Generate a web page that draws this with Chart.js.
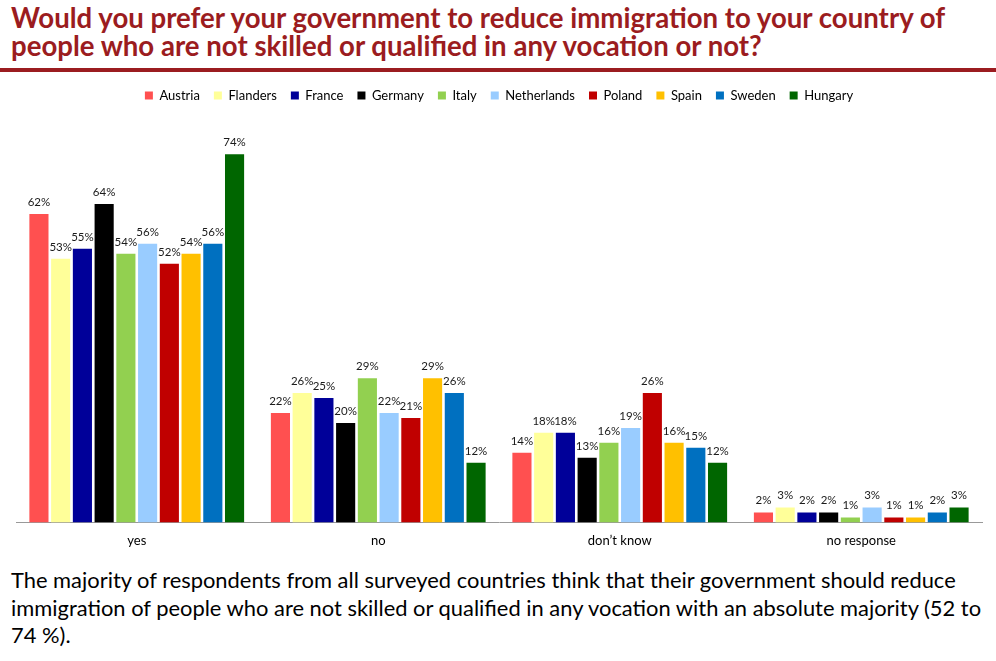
<!DOCTYPE html>
<html>
<head>
<meta charset="utf-8">
<script src="https://cdn.jsdelivr.net/npm/chart.js@4.4.0/dist/chart.umd.min.js"></script>
<style>
    html, body { margin: 0; padding: 0; background: #fff; }
    body { width: 996px; height: 661px; position: relative; overflow: hidden; font-family: Lato, 'Open Sans', sans-serif; }
    #title { position: absolute; left: 11px; top: 4px; color: #9b1c20; font-weight: bold; font-size: 27.6px; line-height: 28px; white-space: nowrap; }
    #rule { position: absolute; left: 0; top: 68px; width: 996px; height: 4px; background: #9b1c20; }
    #wrap { position: absolute; left: 0; top: 75px; width: 996px; height: 477px; }
    #note { position: absolute; left: 11px; top: 566px; font-size: 21.9px; line-height: 27.5px; color: #000; white-space: nowrap; }
</style>
</head>
<body>
<div id="title">Would you prefer your government to reduce immigration to your country of<br>people who are not skilled or qualified in any vocation or not?</div>
<div id="rule"></div>
<div id="wrap"><canvas id="chart"></canvas></div>
<div id="note">The majority of respondents from all surveyed countries think that their government should reduce<br>immigration of people who are not skilled or qualified in any vocation with an absolute majority (52 to<br>74 %).</div>
<script>
    var answers = ['yes', 'no', 'don\u2019t know', 'no response'];

    var austria     = [62, 22, 14, 2];
    var flanders    = [53, 26, 18, 3];
    var france      = [55, 25, 18, 2];
    var germany     = [64, 20, 13, 2];
    var italy       = [54, 29, 16, 1];
    var netherlands = [56, 22, 19, 3];
    var poland      = [52, 21, 26, 1];
    var spain       = [54, 29, 16, 1];
    var sweden      = [56, 26, 15, 2];
    var hungary     = [74, 12, 12, 3];

    var countries = ['Austria', 'Flanders', 'France', 'Germany', 'Italy', 'Netherlands', 'Poland', 'Spain', 'Sweden', 'Hungary'];
    var series    = [austria, flanders, france, germany, italy, netherlands, poland, spain, sweden, hungary];
    var colors    = ['#ff5050', '#ffff99', '#000099', '#000000', '#92d050', '#99ccff', '#c00000', '#ffc000', '#0070c0', '#006600'];

    var FONT = "Lato, 'Open Sans', sans-serif";

    // percent labels over each bar
    var barLabels = {
        id: 'barLabels',
        afterDatasetsDraw: function(chart) {
            var ctx = chart.ctx;
            ctx.save();
            ctx.font = '11.5px ' + FONT;
            ctx.fillStyle = '#1a1a1a';
            ctx.textAlign = 'center';
            ctx.textBaseline = 'bottom';
            chart.data.datasets.forEach(function(ds, i) {
                chart.getDatasetMeta(i).data.forEach(function(bar, j) {
                    ctx.fillText(ds.data[j] + '%', bar.x, bar.y - 6);
                });
            });
            ctx.restore();
        }
    };

    var datasets = countries.map(function(name, i) {
        return {
            label: name,
            data: series[i],
            backgroundColor: colors[i],
            borderWidth: 0,
            categoryPercentage: 0.9,
            barPercentage: 0.88
        };
    });

    new Chart(document.getElementById('chart'), {
        type: 'bar',
        data: { labels: answers, datasets: datasets },
        options: {
            responsive: true,
            maintainAspectRatio: false,
            animation: false,
            layout: { padding: { left: 16, right: 14, top: 0, bottom: 0 } },
            plugins: {
                legend: {
                    position: 'top',
                    labels: { boxWidth: 8, boxHeight: 8, padding: 14, color: '#000', font: { family: FONT, size: 13 } }
                },
                tooltip: { enabled: false }
            },
            scales: {
                x: {
                    grid: { display: false },
                    border: { display: true, color: '#999', width: 1 },
                    ticks: { color: '#000', padding: 3, font: { family: FONT, size: 13 } }
                },
                y: {
                    display: false,
                    min: 0,
                    max: 82.5
                }
            }
        },
        plugins: [barLabels]
    });
</script>
</body>
</html>
